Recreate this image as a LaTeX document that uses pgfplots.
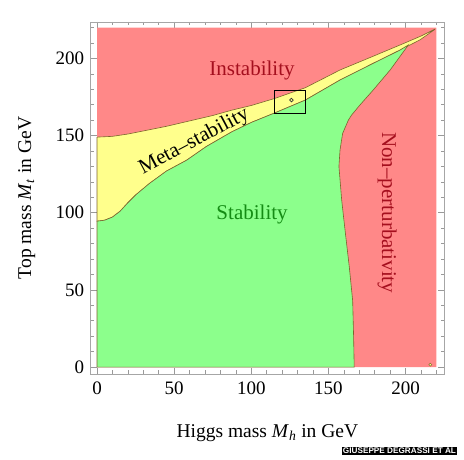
\documentclass[border=0pt]{standalone}
\usepackage{pgfplots}
\pgfplotsset{compat=1.18}
\usepackage{fontspec}
\setmainfont{Liberation Serif}
\newfontfamily\creditfont{Liberation Sans}
\definecolor{instab}{RGB}{255,136,136}
\definecolor{meta}{RGB}{255,255,140}
\definecolor{stab}{RGB}{140,255,140}
\definecolor{edge}{RGB}{125,100,45}
\definecolor{redtxt}{RGB}{165,15,30}
\definecolor{greentxt}{RGB}{20,140,20}
\begin{document}
\begin{tikzpicture}
\begin{axis}[
  at={(0,0)}, anchor=south west,
  scale only axis, width=353.3pt, height=352pt,
  xmin=-4.1, xmax=224.9, ymin=-4.5, ymax=223.6,
  xtick={0,50,...,200}, ytick={0,50,...,200},
  minor xtick={0,10,...,220}, minor ytick={0,10,...,220},
  tick pos=both, tick align=inside,
  major tick length=6pt, minor tick length=3.5pt,
  every tick/.style={gray!80, line width=0.6pt},
  axis line style={gray!70, line width=0.8pt},
  tick label style={font=\fontsize{19}{19}\selectfont, black},
  /pgf/number format/assume math mode=true,
  xticklabel style={yshift=-4pt},
  yticklabel style={xshift=-3pt},
  xlabel={Higgs mass \textit{M}\textsubscript{\textit{h}} in GeV},
  ylabel={Top mass \textit{M}\textsubscript{\textit{t}} in GeV},
  label style={font=\fontsize{19.5}{20}\selectfont},
  xlabel style={at={(axis description cs:0.5,-0.1668)}, anchor=center},
  ylabel style={at={(axis description cs:-0.181,0.5)}, anchor=center},
  clip=false,
]
% instability background
\addplot[fill=instab, draw=none] coordinates {(0,0) (220,0) (220,220) (0,220) (0,0)};
% meta-stability band
\addplot[fill=meta, draw=edge, line width=0.6pt] coordinates {
 (0,149) (10,149.5) (20,151) (30,153) (45,156) (60,159.5) (75,163) (87.5,166.5)
 (100,169.5) (115,174) (135,181) (157.5,192.5) (178,201) (196.4,208.7) (210,214.5) (219,219)
 (219,218.8) (209.3,212) (196.4,205.4) (179,196.8) (157.5,186) (135,173) (115,164.6)
 (100,158.5) (87.5,152.5) (71,143) (58,134) (45,127) (34,119) (25,111.5) (20,106.5) (15,101)
 (10,97.2) (5,95.2) (0,94.5) (0,149)};
% stability
\addplot[fill=stab, draw=edge, line width=0.6pt] coordinates {
 (0,0) (0,94.5) (5,95.2) (10,97.2) (15,101) (20,106.5) (25,111.5) (34,119) (45,127) (58,134)
 (71,143) (87.5,152.5) (100,158.5) (115,164.6) (135,173) (157.5,186) (179,196.8)
 (196.4,205.4) (201.8,208.7) (190,192.5) (179,179.5) (170.4,169.8) (165,163.3)
 (162.9,160) (159.2,151.4) (157.5,140.6) (156.8,130) (158.6,108) (161,86.6)
 (163.5,65) (165.7,43) (166.3,20) (166.7,0) (0,0)};
% experimental region box and ellipse
\addplot[black, line width=1.1pt] coordinates {(115,164.5) (135,164.5) (135,179.5) (115,179.5) (115,164.5)};
\addplot[only marks, mark=o, mark size=1.8pt, mark options={black!80, line width=0.7pt}] coordinates {(126,173)};
% small spot lower right
\addplot[only marks, mark=*, mark size=1.5pt, mark options={fill=meta, draw=edge}] coordinates {(216,1.5)};
% region labels
\node[text=redtxt, font=\fontsize{21}{21}\selectfont] at (axis cs:100.5,192.5) {Instability};
\node[text=black, rotate=28, font=\fontsize{21}{21}\selectfont] at (axis cs:63,146) {Meta--stability};
\node[text=greentxt, font=\fontsize{21}{21}\selectfont] at (axis cs:100.5,99) {Stability};
\node[text=redtxt, rotate=-90, font=\fontsize{21}{21}\selectfont] at (axis cs:188,100) {Non--perturbativity};
% credit
\node[fill=black, text=white, inner sep=0.8pt, font=\creditfont\bfseries\fontsize{8.2}{9}\selectfont] at (axis description cs:0.874,-0.219) {GIUSEPPE DEGRASSI ET AL};
\end{axis}
\path[use as bounding box] (-90.7pt,-86pt) rectangle (373.3pt,374pt);
\end{tikzpicture}
\end{document}
